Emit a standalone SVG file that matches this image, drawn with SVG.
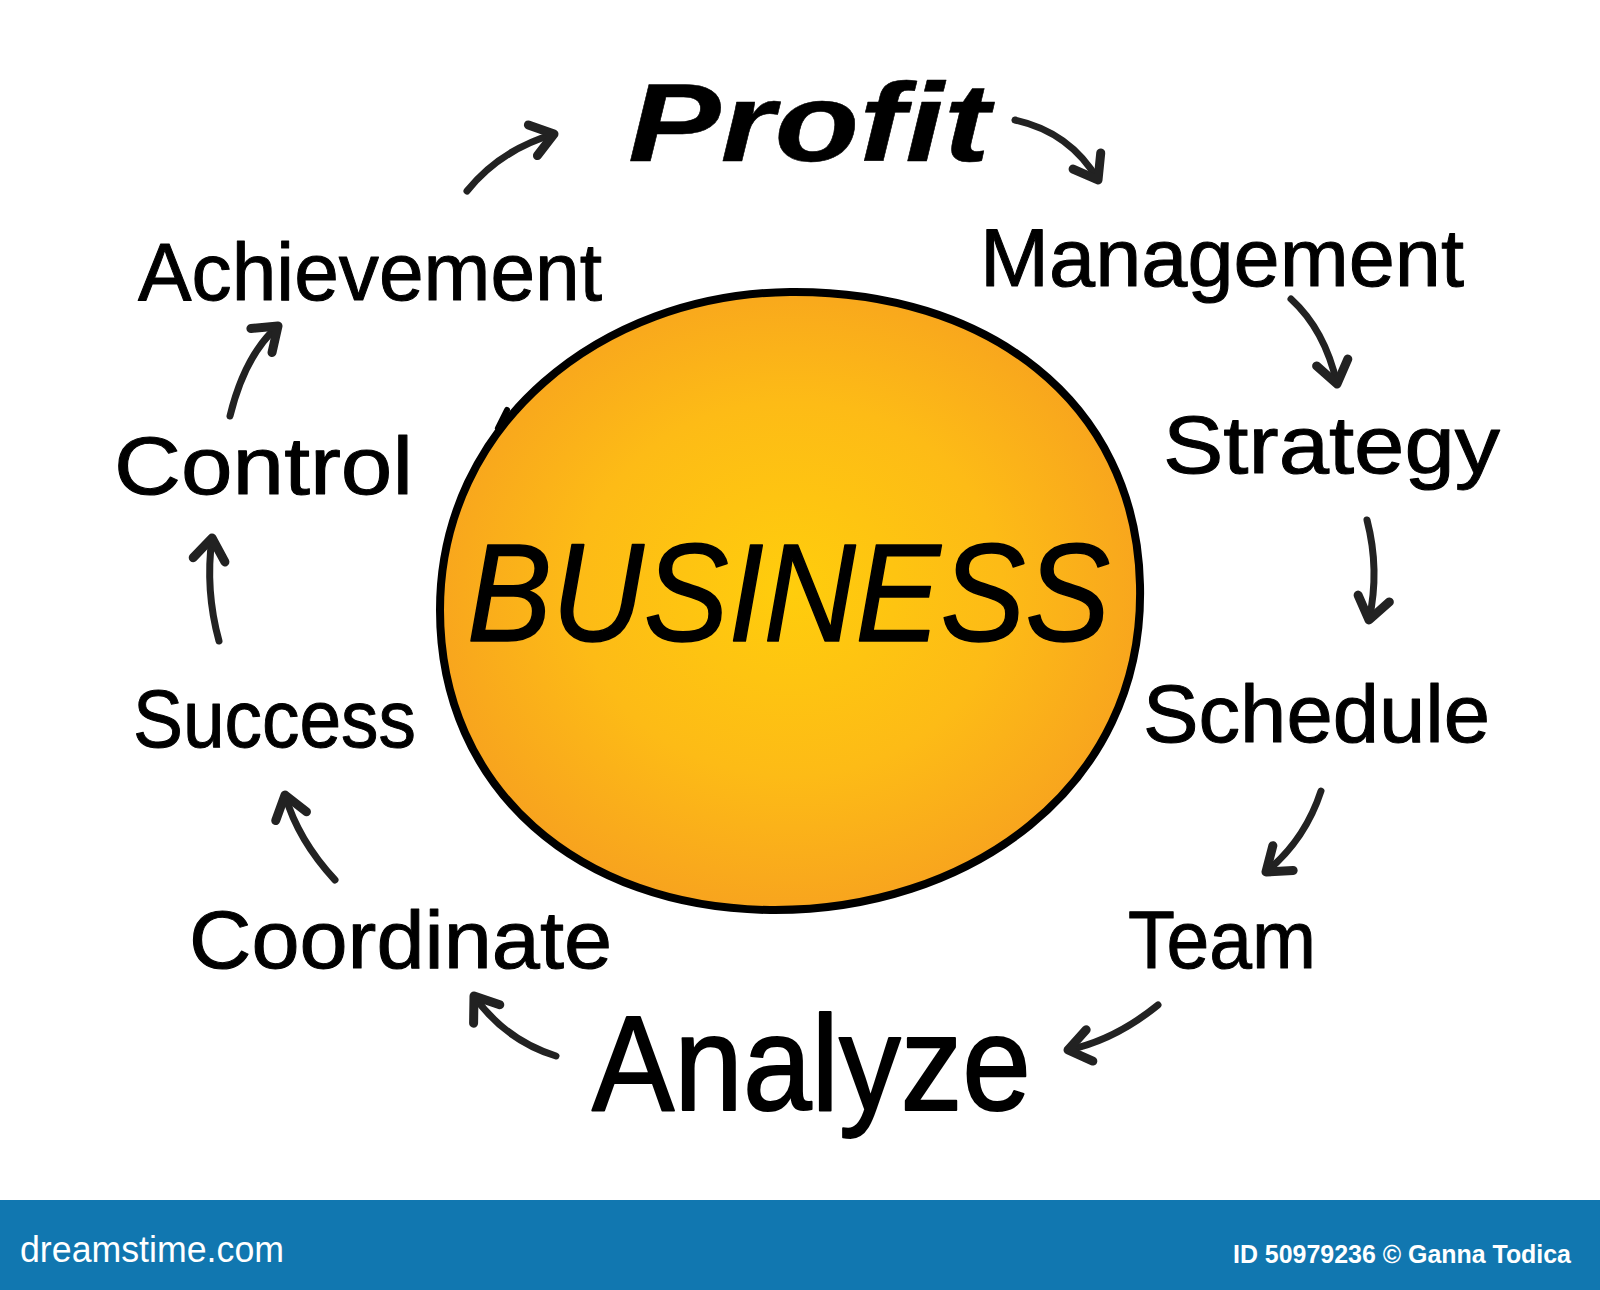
<svg xmlns="http://www.w3.org/2000/svg" width="1600" height="1290" viewBox="0 0 1600 1290">
  <style>
    .lbl { font-family: "Liberation Sans", Arial, sans-serif; font-size: 82px; fill: #000; stroke: #000; stroke-width: 1; stroke-linejoin: round; }
    .hand { font-family: "Liberation Sans", Arial, sans-serif; fill: #000; stroke: #000; stroke-linejoin: round; }
    .conn { fill: none; stroke: #222; stroke-width: 7; stroke-linecap: round; }
  </style>
  <defs>
    <radialGradient id="sun" cx="0.5" cy="0.48" r="0.55">
      <stop offset="0" stop-color="#ffcd0c"/>
      <stop offset="0.55" stop-color="#fdbb16"/>
      <stop offset="1" stop-color="#f7a11f"/>
    </radialGradient>
    <marker id="ah" markerUnits="userSpaceOnUse" markerWidth="48" markerHeight="48" viewBox="-34 -24 48 48" refX="0" refY="0" orient="auto">
      <path d="M-22,-16 L0,0 L-22,16" fill="none" stroke="#222" stroke-width="9" stroke-linecap="round" stroke-linejoin="round"/>
    </marker>
  </defs>

  <rect x="0" y="0" width="1600" height="1200" fill="#ffffff"/>

  <g id="business">
    <path d="M790,292 C985,290 1136,400 1140,585 C1145,790 965,912 770,910 C580,908 440,790 440,610 C440,425 600,294 790,292 Z" fill="url(#sun)" stroke="#000" stroke-width="8"/>
    <path d="M498,428 L507,410" stroke="#000" stroke-width="6" stroke-linecap="round"/>
    <text class="hand" x="467" y="641" font-size="140" font-style="italic" stroke-width="1.5" textLength="643" lengthAdjust="spacingAndGlyphs">BUSINESS</text>
  </g>

  <g id="profit"><text class="hand" x="628" y="161" font-size="112" font-style="italic" font-weight="bold" stroke-width="0.5" textLength="362" lengthAdjust="spacingAndGlyphs">Profit</text></g>
  <g id="management"><text class="lbl" x="980" y="286" textLength="484" lengthAdjust="spacingAndGlyphs">Management</text></g>
  <g id="strategy"><text class="lbl" x="1163" y="473" textLength="337" lengthAdjust="spacingAndGlyphs">Strategy</text></g>
  <g id="schedule"><text class="lbl" x="1143" y="742" textLength="347" lengthAdjust="spacingAndGlyphs">Schedule</text></g>
  <g id="team"><text class="lbl" x="1128" y="968" textLength="188" lengthAdjust="spacingAndGlyphs">Team</text></g>
  <g id="analyze"><text class="hand" x="592" y="1110" font-size="135" stroke-width="2" textLength="439" lengthAdjust="spacingAndGlyphs">Analyze</text></g>
  <g id="coordinate"><text class="lbl" x="189" y="968" textLength="423" lengthAdjust="spacingAndGlyphs">Coordinate</text></g>
  <g id="success"><text class="lbl" x="133" y="747" textLength="283" lengthAdjust="spacingAndGlyphs">Success</text></g>
  <g id="control"><text class="lbl" x="114" y="494" textLength="299" lengthAdjust="spacingAndGlyphs">Control</text></g>
  <g id="achievement"><text class="lbl" x="138" y="300" font-size="86" textLength="464" lengthAdjust="spacingAndGlyphs">Achievement</text></g>

  <g id="connectors">
    <path class="conn" d="M467,191 Q500,150 554,134" marker-end="url(#ah)"/>
    <path class="conn" d="M1015,120 Q1070,132 1098,180" marker-end="url(#ah)"/>
    <path class="conn" d="M1291,299 Q1325,330 1337,384" marker-end="url(#ah)"/>
    <path class="conn" d="M1367,520 Q1380,570 1369,620" marker-end="url(#ah)"/>
    <path class="conn" d="M1321,791 Q1305,840 1266,872" marker-end="url(#ah)"/>
    <path class="conn" d="M1158,1005 Q1115,1040 1068,1050" marker-end="url(#ah)"/>
    <path class="conn" d="M556,1056 Q505,1040 474,996" marker-end="url(#ah)"/>
    <path class="conn" d="M335,880 Q298,840 285,795" marker-end="url(#ah)"/>
    <path class="conn" d="M219,641 Q205,590 212,538" marker-end="url(#ah)"/>
    <path class="conn" d="M230,416 Q245,355 278,326" marker-end="url(#ah)"/>
  </g>

  <g id="footer">
    <rect x="0" y="1200" width="1600" height="90" fill="#1177b0"/>
    <text x="20" y="1262" font-family="Liberation Sans, Arial, sans-serif" font-size="36" fill="#ffffff" textLength="264" lengthAdjust="spacingAndGlyphs">dreamstime.com</text>
    <text x="1571" y="1263" text-anchor="end" font-family="Liberation Sans, Arial, sans-serif" font-size="25" font-weight="bold" fill="#ffffff" textLength="338" lengthAdjust="spacingAndGlyphs">ID 50979236 © Ganna Todica</text>
  </g>
</svg>
